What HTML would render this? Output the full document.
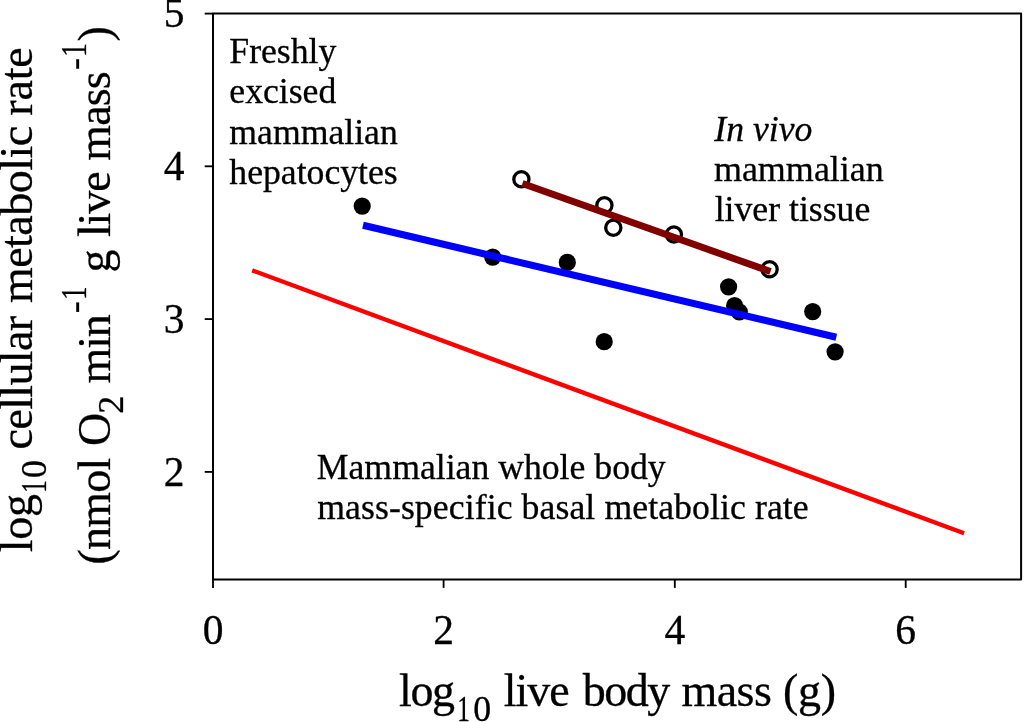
<!DOCTYPE html>
<html lang="en">
<head>
<meta charset="utf-8">
<title>Cellular metabolic rate vs body mass</title>
<style>
  html, body { margin: 0; padding: 0; background: #ffffff; }
  body { width: 1024px; height: 722px; overflow: hidden; }
  svg { display: block; }
  text { font-family: "Liberation Serif", "Times New Roman", Times, serif; fill: #000; stroke: #000; stroke-width: 0.3px; }
  .tick { font-size: 41.5px; }
  .ann { font-size: 35.7px; }
  .title { font-size: 46px; }
  .ss { font-size: 36px; }
</style>
</head>
<body>
<svg width="1024" height="722" viewBox="0 0 1024 722">
  <rect x="0" y="0" width="1024" height="722" fill="#ffffff"/>

  <!-- filled circles (hepatocytes) -->
  <g fill="#000000">
    <circle cx="362.2" cy="206.1" r="8.6"/>
    <circle cx="492.7" cy="257.1" r="8.6"/>
    <circle cx="567.3" cy="262.4" r="8.6"/>
    <circle cx="604.2" cy="341.7" r="8.6"/>
    <circle cx="728.6" cy="286.8" r="8.6"/>
    <circle cx="734.6" cy="305.7" r="8.6"/>
    <circle cx="739.3" cy="311.8" r="8.6"/>
    <circle cx="812.7" cy="311.6" r="8.6"/>
    <circle cx="835.1" cy="351.8" r="8.6"/>
  </g>
  <!-- open circles (liver tissue) -->
  <g fill="#ffffff" stroke="#000000" stroke-width="3.3">
    <circle cx="521.4" cy="179.3" r="7.6"/>
    <circle cx="604.4" cy="205.3" r="7.6"/>
    <circle cx="613.3" cy="227.8" r="7.6"/>
    <circle cx="673.9" cy="234.5" r="7.6"/>
    <circle cx="769.6" cy="269.2" r="7.6"/>
  </g>

  <!-- regression lines -->
  <line x1="252.2" y1="270.35" x2="964.1" y2="533.3" stroke="#ff0000" stroke-width="4.4"/>
  <line x1="363.0" y1="225.2" x2="836.3" y2="337.3" stroke="#0000ff" stroke-width="7.1"/>
  <line x1="522.4" y1="183.4" x2="770.5" y2="271.55" stroke="#800000" stroke-width="6.9"/>

  <!-- frame -->
  <rect x="213" y="13.6" width="808.1" height="566" fill="none" stroke="#000000" stroke-width="2" stroke-linejoin="round"/>
  <!-- y ticks -->
  <g stroke="#000000" stroke-width="1.85">
    <line x1="204.7" y1="13.6" x2="213" y2="13.6"/>
    <line x1="204.7" y1="166.3" x2="213" y2="166.3"/>
    <line x1="204.7" y1="319.1" x2="213" y2="319.1"/>
    <line x1="204.7" y1="471.9" x2="213" y2="471.9"/>
    <!-- x ticks -->
    <line x1="213" y1="579.6" x2="213" y2="587.9"/>
    <line x1="443.6" y1="579.6" x2="443.6" y2="587.9"/>
    <line x1="674.8" y1="579.6" x2="674.8" y2="587.9"/>
    <line x1="905.7" y1="579.6" x2="905.7" y2="587.9"/>
  </g>

  <!-- tick labels -->
  <g class="tick" text-anchor="middle">
    <text x="174" y="27.4">5</text>
    <text x="174" y="180">4</text>
    <text x="174" y="332.9">3</text>
    <text x="174" y="485.8">2</text>
    <text x="213" y="644.1">0</text>
    <text x="443.6" y="644.1">2</text>
    <text x="674.8" y="644.1">4</text>
    <text x="905.7" y="644.1">6</text>
  </g>

  <!-- annotations -->
  <g class="ann">
    <text x="229.3" y="62.9">Freshly</text>
    <text x="229.3" y="103">excised</text>
    <text x="229.3" y="143.6">mammalian</text>
    <text x="229.3" y="184.3">hepatocytes</text>

    <text x="714.3" y="140.6" font-style="italic">In vivo</text>
    <text x="713.9" y="180.5" style="font-size:36px">mammalian</text>
    <text x="714.7" y="220.5">liver tissue</text>

    <text x="316.8" y="478.6">Mammalian whole body</text>
    <text x="317.2" y="519.2" style="letter-spacing:0.09px">mass-specific basal metabolic rate</text>
  </g>

  <!-- y title line 1 -->
  <text class="title" transform="translate(32.20 552.20) rotate(-90)" style="letter-spacing:-0.30px">log</text>
  <text class="ss" transform="translate(46.10 493.09) rotate(-90) scale(0.714 1)">1</text>
  <text class="ss" transform="translate(46.10 477.89) rotate(-90) scale(0.993 1)">0</text>
  <text class="title" transform="translate(32.20 449.40) rotate(-90)" style="letter-spacing:-0.64px">cellular</text>
  <text class="title" transform="translate(32.20 303.10) rotate(-90)" style="letter-spacing:-0.51px">metabolic</text>
  <text class="title" transform="translate(32.20 115.80) rotate(-90)" style="letter-spacing:-0.13px">rate</text>
  <!-- y title line 2 -->
  <text class="title" transform="translate(109.60 564.50) rotate(-90)" style="letter-spacing:-0.78px">(nmol</text>
  <text class="title" transform="translate(109.60 446.00) rotate(-90)">O</text>
  <text class="ss" transform="translate(123.30 413.80) rotate(-90)">2</text>
  <text class="title" transform="translate(109.60 383.50) rotate(-90)" style="letter-spacing:-1.10px">min</text>
  <text class="ss" transform="translate(86.10 313.15) rotate(-90)">-</text>
  <text class="ss" transform="translate(86.10 299.91) rotate(-90) scale(0.754 1)">1</text>
  <text class="title" transform="translate(109.60 272.60) rotate(-90)">g</text>
  <text class="title" transform="translate(109.60 237.10) rotate(-90)" style="letter-spacing:-1.10px">live</text>
  <text class="title" transform="translate(109.60 160.75) rotate(-90)" style="letter-spacing:-0.85px">mass</text>
  <text class="ss" transform="translate(86.10 69.90) rotate(-90)">-</text>
  <text class="ss" transform="translate(86.10 57.06) rotate(-90) scale(0.770 1)">1</text>
  <text class="title" transform="translate(109.60 41.50) rotate(-90)">)</text>
  <!-- x title -->
  <text class="title" x="399.10" y="706.20" style="letter-spacing:-1.40px">log</text>
  <text class="ss" transform="translate(457.37 720.50) scale(0.698 1)">1</text>
  <text class="ss" transform="translate(473.31 720.50) scale(0.993 1)">0</text>
  <text class="title" x="503.80" y="706.20" style="letter-spacing:-1.03px">live</text>
  <text class="title" x="582.70" y="706.20" style="letter-spacing:-1.47px">body</text>
  <text class="title" x="681.60" y="706.20" style="letter-spacing:-0.60px">mass</text>
  <text class="title" x="783.10" y="706.20" style="letter-spacing:-0.30px">(g)</text>
</svg>
</body>
</html>
